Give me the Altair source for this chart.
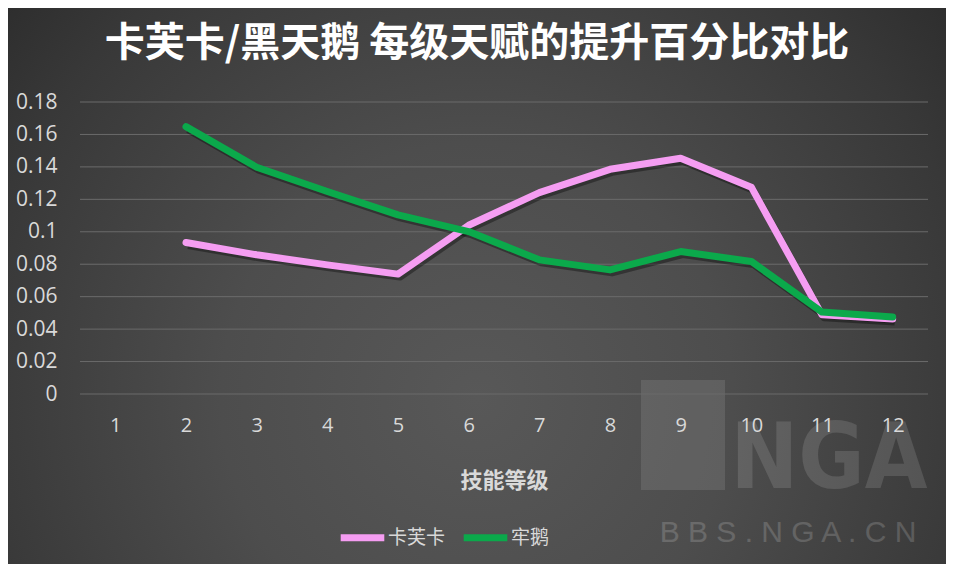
import altair as alt
import pandas as pd

levels = [1, 2, 3, 4, 5, 6, 7, 8, 9, 10, 11, 12]
series_names = ["卡芙卡", "牢鹅"]
kafka = [None, 0.0934, 0.0858, 0.0796, 0.0739, 0.1040, 0.1241, 0.1385, 0.1453, 0.1275, 0.0488, 0.0462]
swan = [None, 0.1648, 0.1398, 0.1248, 0.1104, 0.1001, 0.0827, 0.0765, 0.0878, 0.0817, 0.0505, 0.0474]
y_ticks = [0, 0.02, 0.04, 0.06, 0.08, 0.1, 0.12, 0.14, 0.16, 0.18]
colors = ["#F59DF2", "#0BA94B"]
title_text = "卡芙卡/黑天鹅 每级天赋的提升百分比对比"

rows = []
for name, vals in zip(series_names, [kafka, swan]):
    for lv, v in zip(levels, vals):
        if v is not None:
            rows.append({"level": lv, "value": v, "series": name})
df = pd.DataFrame(rows)
grid_df = pd.DataFrame({"value": y_ticks})

W, H = 848, 292
PL, PT, PR, PB = 72, 94, 18, 170

bg = alt.Chart(alt.Data(values=[{}])).mark_rect(
    fill={
        "gradient": "radial",
        "x1": 0.5, "y1": 0.62, "r1": 0,
        "x2": 0.5, "y2": 0.62, "r2": 0.78,
        "stops": [
            {"offset": 0, "color": "#585858"},
            {"offset": 0.35, "color": "#4d4d4d"},
            {"offset": 0.7, "color": "#383838"},
            {"offset": 1, "color": "#222222"},
        ],
    }
).encode(
    x=alt.value(-PL), x2=alt.value(W + PR), y=alt.value(-PT), y2=alt.value(H + PB)
)

wm_rect = alt.Chart(alt.Data(values=[{}])).mark_rect(color="#ffffff", opacity=0.1).encode(
    x=alt.value(561), x2=alt.value(645), y=alt.value(278), y2=alt.value(388)
)
wm_nga = alt.Chart(alt.Data(values=[{"t": "NGA"}])).mark_text(
    font="DejaVu Sans Condensed, Liberation Sans", fontWeight="bold", fontSize=90, color="#ffffff",
    opacity=0.12, align="center", baseline="alphabetic"
).encode(x=alt.value(749), y=alt.value(386), text="t:N")
wm_bbs = alt.Chart(alt.Data(values=[{"t": "B B S . N G A . C N"}])).mark_text(
    font="Liberation Sans", fontSize=30, color="#ffffff", opacity=0.16,
    align="center", baseline="middle"
).encode(x=alt.value(708), y=alt.value(431), text="t:N")

title = alt.Chart(alt.Data(values=[{"t": title_text}])).mark_text(
    font="Noto Sans CJK SC", fontWeight="bold", fontSize=40, color="#ffffff",
    align="center", baseline="middle"
).encode(x=alt.value(397), y=alt.value(-58), text="t:N")

x_axis = alt.Axis(
    title="技能等级", labelAngle=0, labelFontSize=20, labelColor="#d9d9d9",
    labelFont="Open Sans", labelPadding=21, titleFontSize=22, titleColor="#d9d9d9",
    titleFont="Noto Sans CJK SC", titleFontWeight="bold", titlePadding=35,
    domain=False, ticks=False, grid=False, zindex=1, labelOverlap=False,
)
y_axis = alt.Axis(
    title=None, values=y_ticks, format="~g", labelFontSize=21, labelColor="#d9d9d9",
    labelFont="Open Sans", labelPadding=23, domain=False, ticks=False,
    grid=False, zindex=1, labelOverlap=False,
)
x_enc = alt.X("level:O", scale=alt.Scale(domain=levels, type="point", padding=0.5), axis=x_axis)
y_scale = alt.Scale(domain=[0, 0.18], nice=False)
y_enc = alt.Y("value:Q", scale=y_scale, axis=y_axis)

grid = alt.Chart(grid_df).mark_rule(color="#6b6b6b", strokeWidth=1).encode(
    y=y_enc, x=alt.value(0), x2=alt.value(W)
)

shadow = alt.Chart(df).mark_line(
    strokeWidth=7, color="#000000", opacity=0.35, xOffset=2, yOffset=3, strokeJoin="round"
).encode(x=x_enc, y=y_enc, detail="series:N", order="level:O")

lines = alt.Chart(df).mark_line(strokeWidth=7, strokeJoin="round", strokeCap="round").encode(
    x=x_enc,
    y=y_enc,
    order="level:O",
    color=alt.Color(
        "series:N",
        scale=alt.Scale(domain=series_names, range=colors),
        sort=series_names,
        legend=alt.Legend(
            title=None, orient="none", legendX=257, legendY=410, direction="horizontal",
            symbolType="stroke", symbolSize=1900, symbolStrokeWidth=7,
            labelFontSize=19, labelColor="#d9d9d9", labelFont="Noto Sans CJK SC",
            labelOffset=0, columnPadding=3, zindex=1,
        ),
    ),
)

chart = alt.layer(bg, wm_rect, wm_nga, wm_bbs, title, grid, shadow, lines).properties(
    width=W, height=H,
    autosize=alt.AutoSizeParams(type="none"),
    padding={"left": PL, "top": PT, "right": PR, "bottom": PB},
    background="#333333",
).configure_view(stroke=None)

chart.save("out.html", embed_options={"renderer": "svg", "actions": False})
